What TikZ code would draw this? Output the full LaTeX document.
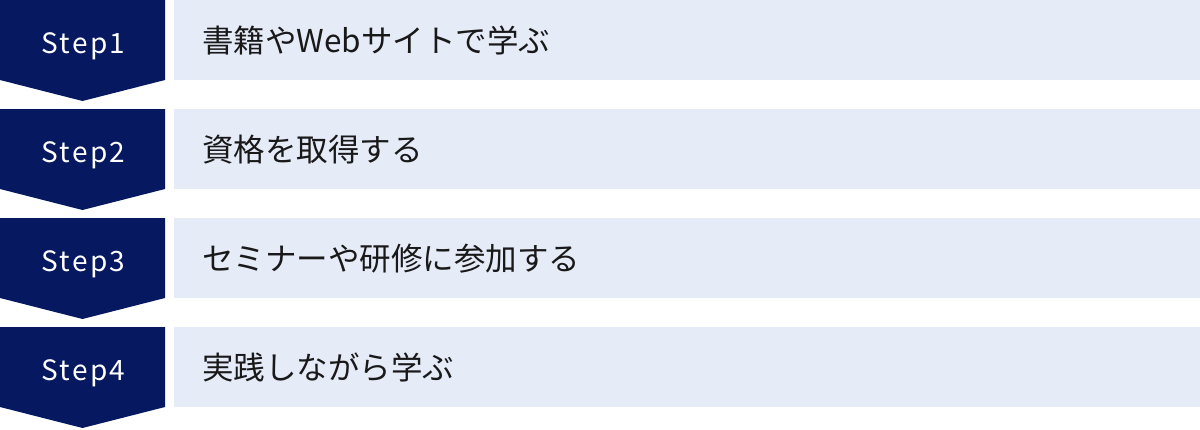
\documentclass[tikz,border=0pt]{standalone}
\usepackage{fontspec}
\setmainfont{Noto Sans CJK JP}
\newfontfamily\stepfont[LetterSpace=8]{Noto Sans CJK JP}
\usetikzlibrary{positioning}
\definecolor{navy}{RGB}{5,24,96}
\definecolor{paleblue}{RGB}{230,235,248}

\begin{document}
\begin{tikzpicture}[x=1pt,y=-1pt,
    chevron/.style={fill=navy},
    steplabel/.style={text=white,inner sep=0pt,anchor=base,font=\stepfont\fontsize{28}{28}\selectfont},
    stepbox/.style={fill=paleblue,anchor=north west,minimum width=1026pt,minimum height=80pt,inner sep=0pt},
    steptext/.style={anchor=west,inner sep=0pt,text=black!90,font=\fontsize{31.5}{31.5}\selectfont}]
  \useasboundingbox (0,0) rectangle (1200,429);
  % Step1
  \fill[chevron] (0,0) -- (165,0) -- (165,80) -- (82.5,101) -- (0,80) -- cycle;
  \node[steplabel] (s1) at (83.5,53) {Step1};
  \node[stepbox] (b1) at (174,0) {};
  \node[steptext] (t1) at ([xshift=28pt]b1.west) {書籍やWebサイトで学ぶ};
  % Step2
  \fill[chevron] (0,109) -- (165,109) -- (165,189) -- (82.5,210) -- (0,189) -- cycle;
  \node[steplabel] (s2) at (83.5,162) {Step2};
  \node[stepbox] (b2) at (174,109) {};
  \node[steptext] (t2) at ([xshift=28pt]b2.west) {資格を取得する};
  % Step3
  \fill[chevron] (0,218) -- (165,218) -- (165,298) -- (82.5,319) -- (0,298) -- cycle;
  \node[steplabel] (s3) at (83.5,271) {Step3};
  \node[stepbox] (b3) at (174,218) {};
  \node[steptext] (t3) at ([xshift=28pt]b3.west) {セミナーや研修に参加する};
  % Step4
  \fill[chevron] (0,327) -- (165,327) -- (165,407) -- (82.5,428) -- (0,407) -- cycle;
  \node[steplabel] (s4) at (83.5,380) {Step4};
  \node[stepbox] (b4) at (174,327) {};
  \node[steptext] (t4) at ([xshift=28pt]b4.west) {実践しながら学ぶ};
\end{tikzpicture}
\end{document}
